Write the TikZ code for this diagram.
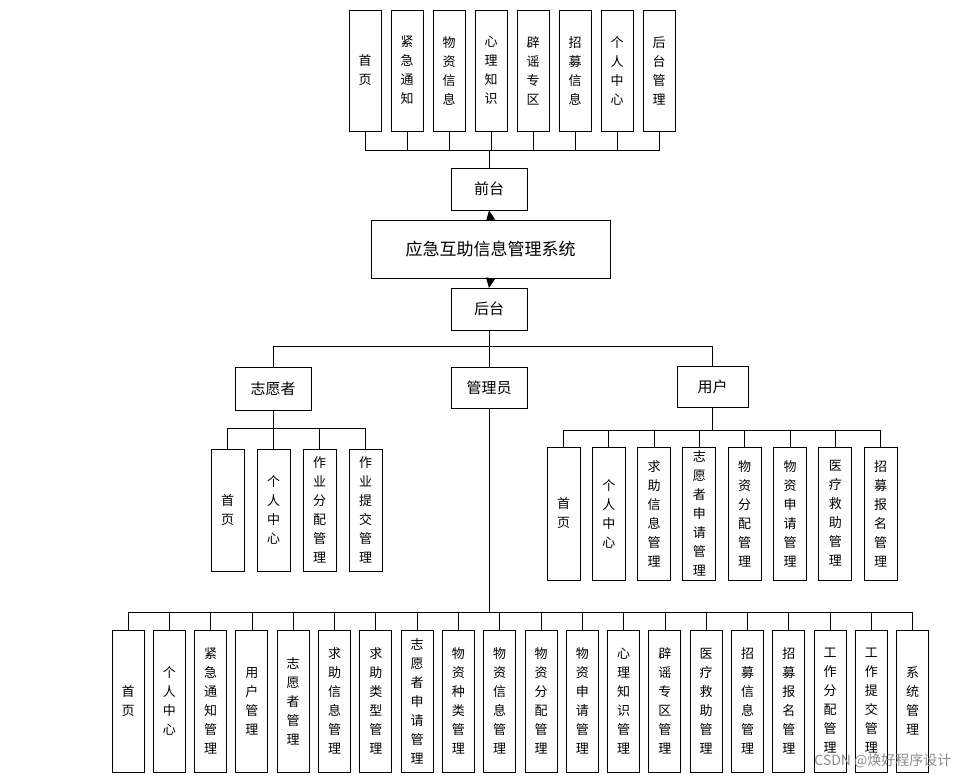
\documentclass[tikz,border=0pt]{standalone}
\usepackage{fontspec}
\setmainfont{Noto Sans CJK SC}
\usetikzlibrary{arrows.meta}
\ExplSyntaxOn
\NewDocumentCommand\vt{m}{
  \tl_set:Nx \l_tmpb_tl {#1}
  \seq_clear:N \l_tmpa_seq
  \tl_map_inline:Nn \l_tmpb_tl {\seq_put_right:Nn \l_tmpa_seq {##1}}
  \seq_use:Nn \l_tmpa_seq {\\}
}
\ExplSyntaxOff
\tikzset{
  bx/.style={draw,line width=0.9pt,fill=white,inner sep=0pt,align=center,
    font=\fontsize{13}{19}\selectfont},
  ln/.style={line width=0.8pt}
}
\begin{document}
\begin{tikzpicture}[x=1pt,y=-1pt]
\useasboundingbox (0,0) rectangle (970,780);
% main nodes
\node[bx,minimum width=76,minimum height=42,font=\fontsize{15}{18}\selectfont] (ft) at (489,189) {前台};
\node[bx,minimum width=239,minimum height=58,font=\fontsize{17}{20}\selectfont] (sys) at (490.5,249) {应急互助信息管理系统};
\node[bx,minimum width=76,minimum height=42,font=\fontsize{15}{18}\selectfont] (bt) at (489,309) {后台};
\node[bx,minimum width=76,minimum height=43,font=\fontsize{15}{18}\selectfont] (vol) at (273,388.5) {志愿者};
\node[bx,minimum width=76,minimum height=41,font=\fontsize{15}{18}\selectfont] (adm) at (489,387.5) {管理员};
\node[bx,minimum width=71,minimum height=41,font=\fontsize{15}{18}\selectfont] (usr) at (712.5,386.5) {用户};
\draw[ln,-{Triangle[width=9pt,length=10pt]}] (sys.north) -- (ft.south);
\draw[ln,-{Triangle[width=9pt,length=10pt]}] (sys.south) -- (bt.south |- 0,288);
% top row
\coordinate (tb) at (489,150);
\foreach \t [count=\i from 0] in {首页,紧急通知,物资信息,心理知识,辟谣专区,招募信息,个人中心,后台管理}{
  \node[bx,minimum width=32,minimum height=121] (t\i) at (365+42*\i,70.5) {\vt{\t}};
  \draw[ln] (t\i.south) -- (t\i.south |- tb) -- (tb);
}
\draw[ln] (tb) -- (ft.north);
% second level bus
\coordinate (bb) at (489,346);
\draw[ln] (bt.south) -- (bb);
\foreach \n in {vol,adm,usr}{\draw[ln] (\n.north) -- (\n.north |- bb) -- (bb);}
% volunteer
\coordinate (vb) at (273,428);
\draw[ln] (vol.south) -- (vb);
\foreach \t [count=\i from 0] in {首页,个人中心,作业分配管理,作业提交管理}{
  \node[bx,minimum width=33,minimum height=122] (v\i) at (227.5+46*\i,510) {\vt{\t}};
  \draw[ln] (v\i.north) -- (v\i.north |- vb) -- (vb);
}
% user
\coordinate (ub) at (712.5,430);
\draw[ln] (usr.south) -- (ub);
\foreach \t [count=\i from 0] in {首页,个人中心,求助信息管理,志愿者申请管理,物资分配管理,物资申请管理,医疗救助管理,招募报名管理}{
  \node[bx,minimum width=33,minimum height=133] (u\i) at (563.5+45.3*\i,513.5) {\vt{\t}};
  \draw[ln] (u\i.north) -- (u\i.north |- ub) -- (ub);
}
% admin
\coordinate (ab) at (489,612);
\draw[ln] (adm.south) -- (ab);
\foreach \t [count=\i from 0] in {首页,个人中心,紧急通知管理,用户管理,志愿者管理,求助信息管理,求助类型管理,志愿者申请管理,物资种类管理,物资信息管理,物资分配管理,物资申请管理,心理知识管理,辟谣专区管理,医疗救助管理,招募信息管理,招募报名管理,工作分配管理,工作提交管理,系统管理}{
  \node[bx,minimum width=32,minimum height=142] (a\i) at (128+41.3*\i,701) {\vt{\t}};
  \draw[ln] (a\i.north) -- (a\i.north |- ab) -- (ab);
}
\node[text=black!45,font=\fontsize{14}{16}\selectfont,anchor=east] (wm) at (955,761) {CSDN @焕好程序设计};
\end{tikzpicture}
\end{document}
